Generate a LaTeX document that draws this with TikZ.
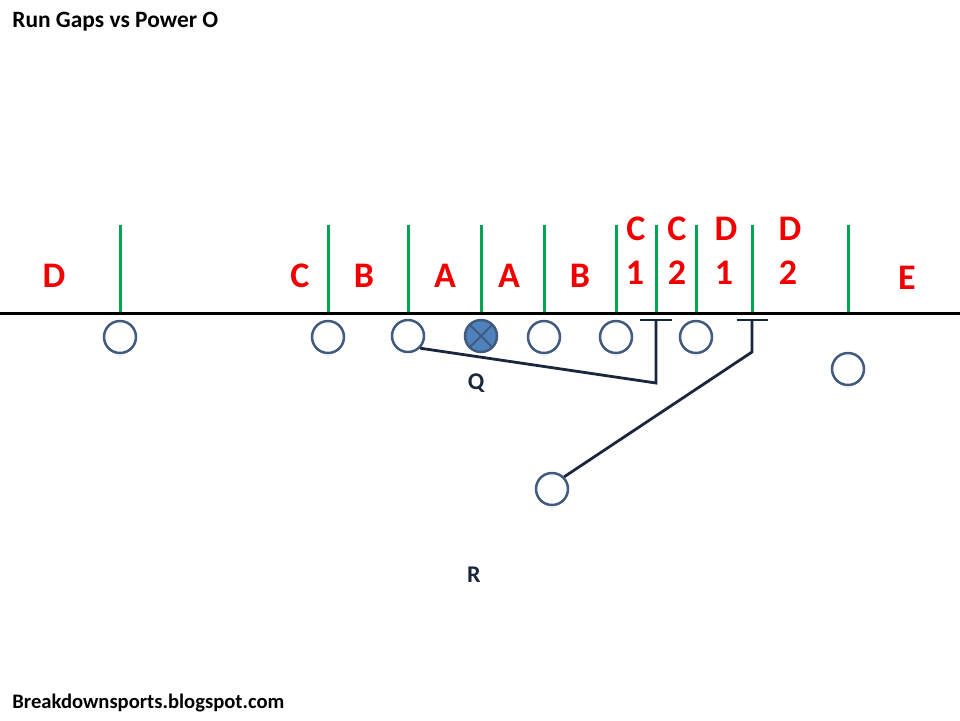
\documentclass[tikz,border=0pt]{standalone}
\usepackage{fontspec}
\setmainfont{Carlito}
\definecolor{gapred}{RGB}{240,0,0}
\definecolor{gapgreen}{RGB}{0,166,81}
\definecolor{mancol}{RGB}{65,90,125}
\definecolor{blockcol}{RGB}{25,38,60}
\definecolor{centerfill}{RGB}{79,129,189}
\tikzstyle{man}=[circle,draw=mancol,line width=1.25pt,fill=white,inner sep=0pt,minimum size=16pt]
\tikzstyle{snapper}=[man,fill=centerfill,path picture={\draw[mancol,line width=1pt] (path picture bounding box.south west)--(path picture bounding box.north east) (path picture bounding box.north west)--(path picture bounding box.south east);}]
\tikzstyle{gap}=[draw=gapgreen,line width=1.5pt]
\tikzstyle{hole}=[text=gapred,inner sep=0pt,font=\bfseries\fontsize{18}{18}\selectfont]
\tikzstyle{block}=[draw=blockcol,line width=1.4pt]
\tikzstyle{tag}=[text=blockcol,inner sep=0pt,font=\bfseries\fontsize{12}{12}\selectfont]

\begin{document}
\begin{tikzpicture}[x=0.5pt,y=-0.5pt]
		\useasboundingbox (0,0) rectangle (960,720);
		\node[anchor=base west,inner sep=0pt,font=\bfseries\fontsize{11.7}{12}\selectfont] (title) at (12,27) {Run Gaps vs Power O};
		\node[anchor=base west,inner sep=0pt,font=\bfseries\fontsize{10.3}{12}\selectfont] (blog) at (12,708) {Breakdownsports.blogspot.com};
		
		% gaps
		\foreach \x in {120,328,408,481,544,616,656,696,752,848}
			\draw[gap] (\x,225)--(\x,313);
		\coordinate (losl) at (0,313);
		\coordinate (losr) at (960,313);
		\draw[line width=1.5pt] (losl)--(losr);
		
		\node (dl) at (54,276) [hole] {D};
		\node (cl) at (300,276) [hole] {C};
		\node (bl) at (364,276) [hole] {B};
		\node (al) at (445,276) [hole] {A};
		\node (ar) at (509,276) [hole] {A};
		\node (br) at (580,276) [hole] {B};
		\node (c1a) at (636,229) [hole] {C};
		\node (c1b) at (635,273) [hole] {1};
		\node (c2a) at (677,229) [hole] {C};
		\node (c2b) at (677,273) [hole] {2};
		\node (d1a) at (726,229) [hole] {D};
		\node (d1b) at (724,273) [hole] {1};
		\node (d2a) at (790,229) [hole] {D};
		\node (d2b) at (788,273) [hole] {2};
		\node (er) at (907,278) [hole] {E};
		
		% offense
		\node (se) at (120,337) [man] {};
		\node (lt) at (328,337) [man] {};
		\node (lg) at (408,336) [man] {};
		\node (cc) at (481,336) [snapper] {};
		\node (rg) at (544,337) [man] {};
		\node (rt) at (616,337) [man] {};
		\node (te) at (696,337) [man] {};
		\node (wb) at (848,369) [man] {};
		\node (rb) at (552,489) [man] {};
		\node (q) at (476,383) [tag] {Q};
		\node (r) at (474,575) [tag] {R};
		
		% blocks
		\coordinate (k1) at (656,383);
		\coordinate (t1) at (656,320);
		\coordinate (t1l) at (640,320);
		\coordinate (t1r) at (672,320);
		\coordinate (k2) at (752,352);
		\coordinate (t2) at (752,320);
		\coordinate (t2l) at (737,320);
		\coordinate (t2r) at (768,320);
		\draw[block] (lg.south east)--(k1)--(t1);
		\draw[block] (t1l)--(t1r);
		\draw[block] (rb.north east)--(k2)--(t2);
		\draw[block] (t2l)--(t2r);
	\end{tikzpicture}
\end{document}
